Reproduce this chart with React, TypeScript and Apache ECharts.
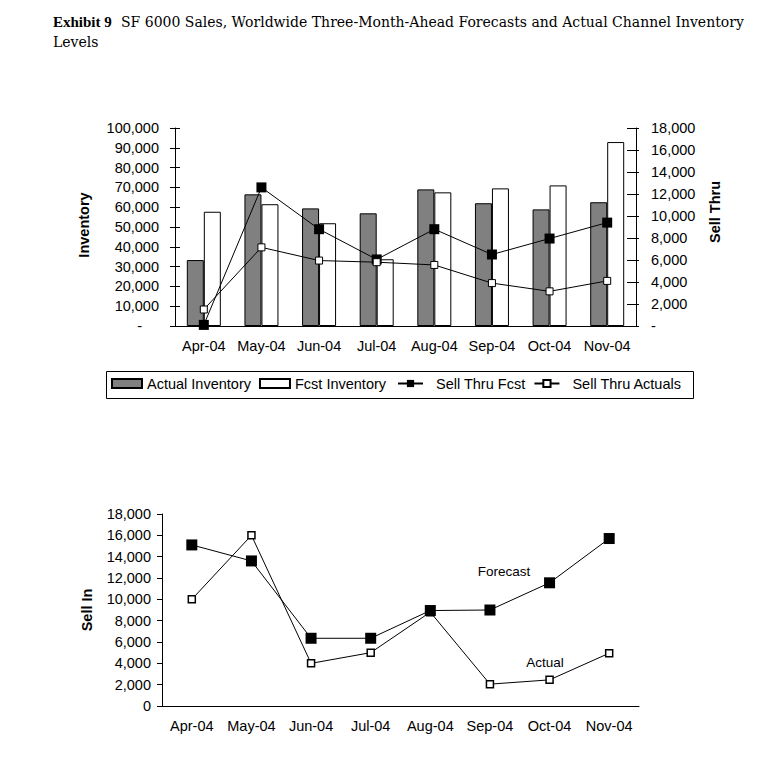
import React, { useEffect, useRef } from 'react';
import * as echarts from 'echarts';

const categories = ['Apr-04', 'May-04', 'Jun-04', 'Jul-04', 'Aug-04', 'Sep-04', 'Oct-04', 'Nov-04'];

// Top chart (left axis: inventory units)
const actualInventory = [33300, 66500, 59400, 56900, 69000, 62000, 58900, 62500];
const fcstInventory = [57700, 61500, 51900, 33700, 67500, 69500, 71000, 92900];
// Top chart (right axis: sell thru units)
const sellThruFcst = [100, 12600, 8800, 6050, 8800, 6500, 7950, 9400];
const sellThruActuals = [1500, 7150, 5950, 5800, 5550, 3900, 3150, 4100];

// Bottom chart (sell in)
const sellInForecast = [15100, 13600, 6350, 6350, 8950, 9000, 11550, 15700];
const sellInActual = [10000, 16000, 4000, 5000, 8800, 2050, 2450, 4950];

const FONT = '"Liberation Sans", Arial, sans-serif';
const SERIF = '"DejaVu Serif", "Liberation Serif", serif';
const TIMES = '"Liberation Serif", "Times New Roman", serif';
const FS = 14.5;

export default function App() {
  const ref = useRef<HTMLDivElement>(null);

  useEffect(() => {
    document.body.style.margin = '0';
    const chart = echarts.init(ref.current!, null, { renderer: 'svg' });
    const fmt = (v: number) => v.toLocaleString('en-US');
    const axisText = { color: '#000', fontFamily: FONT, fontSize: FS };
    const black = { color: '#000', width: 1 };

    const option = {
      animation: false,
      backgroundColor: '#fff',
      grid: [
        { left: 175, top: 128, width: 461, height: 198 },
        { left: 162, top: 514, width: 477, height: 192 },
      ],
      xAxis: [
        {
          type: 'category',
          gridIndex: 0,
          data: categories,
          axisLine: { lineStyle: black },
          axisTick: { inside: true, length: 5, lineStyle: black },
          axisLabel: { ...axisText, margin: 12, interval: 0 },
          splitLine: { show: false },
        },
        {
          type: 'category',
          gridIndex: 1,
          data: categories,
          axisLine: { lineStyle: black },
          axisTick: { inside: false, length: 6, lineStyle: black },
          axisLabel: { ...axisText, margin: 12, interval: 0 },
          splitLine: { show: false },
        },
      ],
      yAxis: [
        {
          type: 'value',
          gridIndex: 0,
          position: 'left',
          min: 0,
          max: 100000,
          interval: 10000,
          axisLine: { show: true, lineStyle: black },
          axisTick: { show: true, inside: false, length: 5, lineStyle: black },
          axisLabel: {
            ...axisText,
            margin: 16,
            formatter: (v: number) => (v === 0 ? '{dash|-}' : fmt(v)),
            rich: { dash: { fontSize: FS, fontFamily: FONT, color: '#000', padding: [0, 17, 0, 0] } },
          },
          splitLine: { show: false },
        },
        {
          type: 'value',
          gridIndex: 0,
          position: 'right',
          min: 0,
          max: 18000,
          interval: 2000,
          axisLine: { show: true, lineStyle: black },
          axisTick: { show: true, inside: true, length: 9, lineStyle: black },
          axisLabel: {
            ...axisText,
            margin: 15,
            formatter: (v: number) => (v === 0 ? '-' : fmt(v)),
          },
          splitLine: { show: false },
        },
        {
          type: 'value',
          gridIndex: 0,
          position: 'left',
          min: 0,
          max: 100000,
          interval: 10000,
          axisLine: { show: false },
          axisTick: { show: true, inside: true, length: 5, lineStyle: black },
          axisLabel: { show: false },
          splitLine: { show: false },
        },
        {
          type: 'value',
          gridIndex: 0,
          position: 'right',
          min: 0,
          max: 18000,
          interval: 2000,
          axisLine: { show: false },
          axisTick: { show: true, inside: false, length: 3, lineStyle: black },
          axisLabel: { show: false },
          splitLine: { show: false },
        },
        {
          type: 'value',
          gridIndex: 1,
          position: 'left',
          min: 0,
          max: 18000,
          interval: 2000,
          axisLine: { show: true, lineStyle: black },
          axisTick: { show: true, inside: false, length: 5, lineStyle: black },
          axisLabel: { ...axisText, margin: 11, formatter: (v: number) => fmt(v) },
          splitLine: { show: false },
        },
      ],
      legend: [
        {
          data: ['Actual Inventory', 'Fcst Inventory'],
          left: 111,
          top: 376,
          padding: 0,
          itemWidth: 30,
          itemHeight: 9,
          itemGap: 8,
          icon: 'rect',
          selectedMode: false,
          textStyle: { ...axisText },
        },
        {
          data: ['Sell Thru Fcst', 'Sell Thru Actuals'],
          left: 397,
          top: 376,
          padding: 0,
          itemWidth: 25,
          itemHeight: 9,
          itemGap: 8,
          selectedMode: false,
          textStyle: { ...axisText, padding: [0, 0, 0, 8] },
        },
      ],
      series: [
        {
          name: 'Actual Inventory',
          type: 'bar',
          xAxisIndex: 0,
          yAxisIndex: 0,
          data: actualInventory,
          barWidth: 17,
          barGap: '0%',
          itemStyle: { color: '#808080', borderColor: '#000', borderWidth: 1 },
        },
        {
          name: 'Fcst Inventory',
          type: 'bar',
          xAxisIndex: 0,
          yAxisIndex: 0,
          data: fcstInventory,
          barWidth: 17,
          barGap: '0%',
          itemStyle: { color: '#ffffff', borderColor: '#000', borderWidth: 1 },
        },
        {
          name: 'Sell Thru Fcst',
          type: 'line',
          xAxisIndex: 0,
          yAxisIndex: 1,
          data: sellThruFcst,
          symbol: 'rect',
          symbolSize: 10,
          z: 5,
          itemStyle: { color: '#000' },
          lineStyle: black,
        },
        {
          name: 'Sell Thru Actuals',
          type: 'line',
          xAxisIndex: 0,
          yAxisIndex: 1,
          data: sellThruActuals,
          symbol: 'rect',
          symbolSize: 7,
          z: 5,
          itemStyle: { color: '#fff', borderColor: '#000', borderWidth: 1 },
          lineStyle: black,
        },
        {
          name: 'Forecast',
          type: 'line',
          xAxisIndex: 1,
          yAxisIndex: 4,
          data: sellInForecast,
          symbol: 'rect',
          symbolSize: 11,
          z: 6,
          itemStyle: { color: '#000' },
          lineStyle: black,
        },
        {
          name: 'Actual',
          type: 'line',
          xAxisIndex: 1,
          yAxisIndex: 4,
          data: sellInActual,
          symbol: 'rect',
          symbolSize: 7,
          z: 5,
          itemStyle: { color: '#fff', borderColor: '#000', borderWidth: 1.5 },
          lineStyle: black,
        },
      ],
      graphic: [
        {
          type: 'rect',
          shape: { x: 106.5, y: 371.5, width: 587, height: 27 },
          style: { fill: 'none', stroke: '#000', lineWidth: 1 },
        },
        {
          type: 'text',
          x: 53,
          y: 22,
          style: { text: 'Exhibit 9', fontFamily: TIMES, fontSize: 15, fontWeight: 'bold', fill: '#000', align: 'left', verticalAlign: 'middle' },
        },
        {
          type: 'text',
          x: 121,
          y: 22,
          style: {
            text: 'SF 6000 Sales, Worldwide Three-Month-Ahead Forecasts and Actual Channel Inventory',
            fontFamily: SERIF,
            fontSize: 14,
            fill: '#000',
            align: 'left',
            verticalAlign: 'middle',
          },
        },
        {
          type: 'text',
          x: 53,
          y: 42,
          style: { text: 'Levels', fontFamily: SERIF, fontSize: 14, fill: '#000', align: 'left', verticalAlign: 'middle' },
        },
        {
          type: 'text',
          x: 84,
          y: 225,
          rotation: Math.PI / 2,
          style: { text: 'Inventory', fontFamily: FONT, fontSize: FS, fontWeight: 'bold', fill: '#000', align: 'center', verticalAlign: 'middle' },
        },
        {
          type: 'text',
          x: 715,
          y: 212,
          rotation: Math.PI / 2,
          style: { text: 'Sell Thru', fontFamily: FONT, fontSize: FS, fontWeight: 'bold', fill: '#000', align: 'center', verticalAlign: 'middle' },
        },
        {
          type: 'text',
          x: 87,
          y: 610,
          rotation: Math.PI / 2,
          style: { text: 'Sell In', fontFamily: FONT, fontSize: FS, fontWeight: 'bold', fill: '#000', align: 'center', verticalAlign: 'middle' },
        },
        {
          type: 'text',
          x: 504,
          y: 571,
          style: { text: 'Forecast', fontFamily: FONT, fontSize: 13.5, fill: '#000', align: 'center', verticalAlign: 'middle' },
        },
        {
          type: 'text',
          x: 545,
          y: 662,
          style: { text: 'Actual', fontFamily: FONT, fontSize: 13.5, fill: '#000', align: 'center', verticalAlign: 'middle' },
        },
      ],
    };

    chart.setOption(option as any);
    return () => chart.dispose();
  }, []);

  return <div ref={ref} style={{ width: 775, height: 774 }} />;
}
